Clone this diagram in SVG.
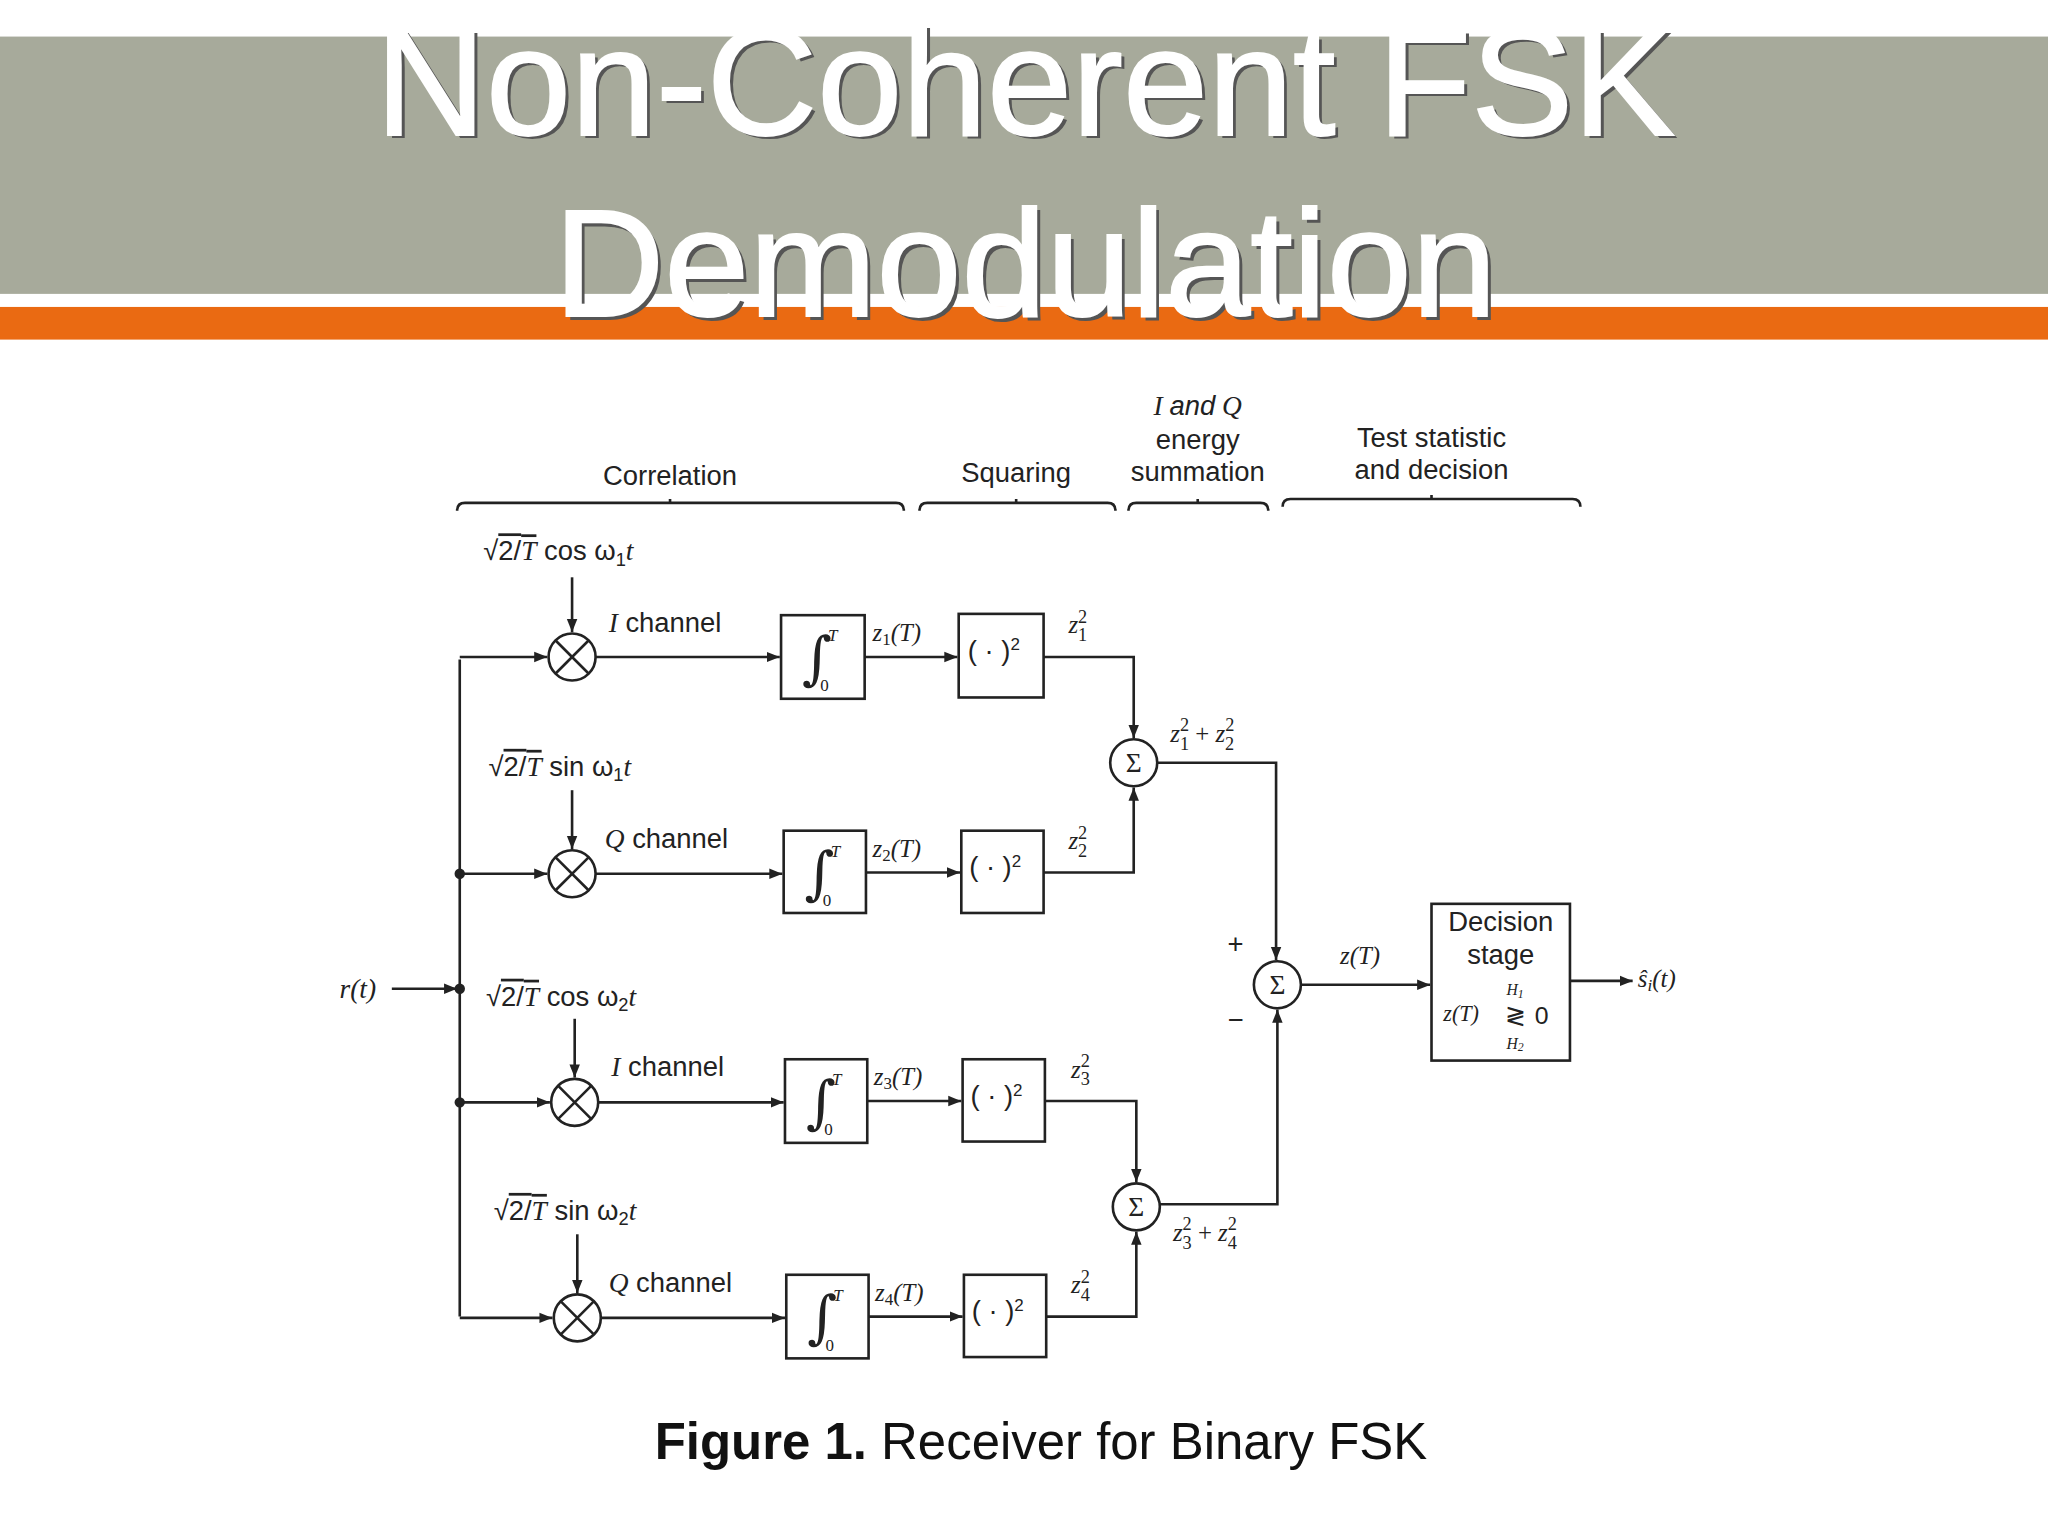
<svg xmlns="http://www.w3.org/2000/svg" width="2048" height="1536" viewBox="0 0 2048 1536">
<defs>
<marker id="ah" viewBox="0 0 10 10" refX="10" refY="5" markerWidth="10" markerHeight="10" markerUnits="userSpaceOnUse" orient="auto"><path d="M0,1 L10,5 L0,9 z" fill="#222"/></marker>
</defs>
<style>
.ln{fill:none;stroke:#222;stroke-width:2}
.bx{fill:#fff;stroke:#222;stroke-width:2}
.t{font-family:"Liberation Sans",Arial,sans-serif;font-size:21px;fill:#222}
.m{font-family:"Liberation Serif","Times New Roman",serif;font-style:italic;font-size:21px;fill:#222}
.n{font-style:normal}
.s{font-family:"Liberation Serif",serif;font-size:13px;fill:#222}
.ig{font-family:"DejaVu Serif",serif;font-size:44px;fill:#222}
.title{font-family:"Liberation Sans",Arial,sans-serif;font-size:117px;text-anchor:middle}
</style>
<rect width="2048" height="1536" fill="#fff"/>
<g transform="scale(1.30612)">
<rect x="0" y="28" width="1568" height="197" fill="#a7aa9b"/>
<rect x="0" y="235" width="1568" height="25" fill="#ea6a12"/>
<g id="title">
<text class="title" x="788" y="106" fill="#555">Non-Coherent FSK</text>
<text class="title" x="785" y="103" fill="#fff" stroke="#fff" stroke-width="1.5">Non-Coherent FSK</text>
<text class="title" x="788" y="245" fill="#555">Demodulation</text>
<text class="title" x="785" y="242" fill="#fff" stroke="#fff" stroke-width="1.5">Demodulation</text>
</g>
<g id="headers" class="t" text-anchor="middle">
<text x="513" y="371">Correlation</text>
<text x="778" y="369">Squaring</text>
<text x="917" y="318" class="m">I <tspan class="t">and</tspan> Q</text>
<text x="917" y="344">energy</text>
<text x="917" y="368">summation</text>
<text x="1096" y="342">Test statistic</text>
<text x="1096" y="367">and decision</text>
</g>
<g id="braces" class="ln" stroke-width="1.5">
<path d="M350,391 Q350,385 356,385 L686,385 Q692,385 692,391 M513,385 l0,-3"/>
<path d="M704,391 Q704,385 710,385 L848,385 Q854,385 854,391 M778,385 l0,-3"/>
<path d="M864,391 Q864,385 870,385 L965,385 Q971,385 971,391 M917,385 l0,-3"/>
<path d="M982,388 Q982,382 988,382 L1204,382 Q1210,382 1210,388 M1096,382 l0,-3"/>
</g>
<g id="connectors" class="ln">
<path d="M300,757 L350,757" marker-end="url(#ah)"/>
<path d="M352,505 L352,1008"/>
<path d="M352,503 L419,503" marker-end="url(#ah)"/>
<path d="M352,669 L419,669" marker-end="url(#ah)"/>
<path d="M352,844 L421,844" marker-end="url(#ah)"/>
<path d="M352,1009 L423,1009" marker-end="url(#ah)"/>
<path d="M438,442 L438,484" marker-end="url(#ah)"/>
<path d="M438,605 L438,650" marker-end="url(#ah)"/>
<path d="M440,780 L440,825" marker-end="url(#ah)"/>
<path d="M442,945 L442,990" marker-end="url(#ah)"/>
<path d="M456,503 L597,503" marker-end="url(#ah)"/>
<path d="M456,669 L599,669" marker-end="url(#ah)"/>
<path d="M458,844 L600,844" marker-end="url(#ah)"/>
<path d="M460,1009 L601,1009" marker-end="url(#ah)"/>
<path d="M662,503 L733,503" marker-end="url(#ah)"/>
<path d="M663,668 L735,668" marker-end="url(#ah)"/>
<path d="M664,843 L736,843" marker-end="url(#ah)"/>
<path d="M665,1008 L737,1008" marker-end="url(#ah)"/>
<path d="M799,503 L868,503 L868,565" marker-end="url(#ah)"/>
<path d="M799,668 L868,668 L868,603" marker-end="url(#ah)"/>
<path d="M800,843 L870,843 L870,905" marker-end="url(#ah)"/>
<path d="M801,1008 L870,1008 L870,943" marker-end="url(#ah)"/>
<path d="M886,584 L977,584 L977,735" marker-end="url(#ah)"/>
<path d="M888,922 L978,922 L978,773" marker-end="url(#ah)"/>
<path d="M996,754 L1095,754" marker-end="url(#ah)"/>
<path d="M1202,751 L1250,751" marker-end="url(#ah)"/>
<circle cx="352" cy="669" r="3" fill="#222"/>
<circle cx="352" cy="757" r="3" fill="#222"/>
<circle cx="352" cy="844" r="3" fill="#222"/>
</g>
<g id="mult1"><circle class="bx" cx="438" cy="503" r="18"/><path class="ln" d="M425,490 L451,516 M451,490 L425,516"/></g>
<g id="mult2"><circle class="bx" cx="438" cy="669" r="18"/><path class="ln" d="M425,656 L451,682 M451,656 L425,682"/></g>
<g id="mult3"><circle class="bx" cx="440" cy="844" r="18"/><path class="ln" d="M427,831 L453,857 M453,831 L427,857"/></g>
<g id="mult4"><circle class="bx" cx="442" cy="1009" r="18"/><path class="ln" d="M429,996 L455,1022 M455,996 L429,1022"/></g>
<g id="carriers" class="t">
<text x="370" y="429">√<tspan text-decoration="overline">2/<tspan class="m">T</tspan></tspan> cos ω<tspan font-size="14" dy="4">1</tspan><tspan class="m" dy="-4">t</tspan></text>
<text x="374" y="594">√<tspan text-decoration="overline">2/<tspan class="m">T</tspan></tspan> sin ω<tspan font-size="14" dy="4">1</tspan><tspan class="m" dy="-4">t</tspan></text>
<text x="372" y="770">√<tspan text-decoration="overline">2/<tspan class="m">T</tspan></tspan> cos ω<tspan font-size="14" dy="4">2</tspan><tspan class="m" dy="-4">t</tspan></text>
<text x="378" y="934">√<tspan text-decoration="overline">2/<tspan class="m">T</tspan></tspan> sin ω<tspan font-size="14" dy="4">2</tspan><tspan class="m" dy="-4">t</tspan></text>
<text x="466" y="484"><tspan class="m">I</tspan> channel</text>
<text x="463" y="649"><tspan class="m">Q</tspan> channel</text>
<text x="468" y="824"><tspan class="m">I</tspan> channel</text>
<text x="466" y="989"><tspan class="m">Q</tspan> channel</text>
<text x="260" y="764" class="m">r(t)</text>
</g>
<g id="int1"><rect class="bx" x="598" y="471" width="64" height="64"/><text class="ig" x="614" y="519">∫</text><text class="s" style="font-style:italic" x="634" y="491">T</text><text class="s" x="628" y="529">0</text></g>
<g id="int2"><rect class="bx" x="600" y="636" width="63" height="63"/><text class="ig" x="616" y="684">∫</text><text class="s" style="font-style:italic" x="636" y="656">T</text><text class="s" x="630" y="694">0</text></g>
<g id="int3"><rect class="bx" x="601" y="811" width="63" height="64"/><text class="ig" x="617" y="859">∫</text><text class="s" style="font-style:italic" x="637" y="831">T</text><text class="s" x="631" y="869">0</text></g>
<g id="int4"><rect class="bx" x="602" y="976" width="63" height="64"/><text class="ig" x="618" y="1024">∫</text><text class="s" style="font-style:italic" x="638" y="996">T</text><text class="s" x="632" y="1034">0</text></g>
<g id="sq1"><rect class="bx" x="734" y="470" width="65" height="64"/><text class="t" x="741" y="505" font-size="18">( · )<tspan font-size="13" dy="-7">2</tspan></text></g>
<g id="sq2"><rect class="bx" x="736" y="636" width="63" height="63"/><text class="t" x="742" y="671" font-size="18">( · )<tspan font-size="13" dy="-7">2</tspan></text></g>
<g id="sq3"><rect class="bx" x="737" y="811" width="63" height="63"/><text class="t" x="743" y="846" font-size="18">( · )<tspan font-size="13" dy="-7">2</tspan></text></g>
<g id="sq4"><rect class="bx" x="738" y="976" width="63" height="63"/><text class="t" x="744" y="1011" font-size="18">( · )<tspan font-size="13" dy="-7">2</tspan></text></g>
<g id="zlabels" class="m" style="font-size:19px">
<text x="668" y="491">z<tspan class="n" font-size="13" dy="3">1</tspan><tspan dy="-3">(T)</tspan></text>
<text x="668" y="656">z<tspan class="n" font-size="13" dy="3">2</tspan><tspan dy="-3">(T)</tspan></text>
<text x="669" y="831">z<tspan class="n" font-size="13" dy="3">3</tspan><tspan dy="-3">(T)</tspan></text>
<text x="670" y="996">z<tspan class="n" font-size="13" dy="3">4</tspan><tspan dy="-3">(T)</tspan></text>
<text x="818" y="485">z<tspan class="n" font-size="14" dy="-8">2</tspan><tspan class="n" font-size="14" dx="-7" dy="14">1</tspan></text>
<text x="818" y="650">z<tspan class="n" font-size="14" dy="-8">2</tspan><tspan class="n" font-size="14" dx="-7" dy="14">2</tspan></text>
<text x="820" y="825">z<tspan class="n" font-size="14" dy="-8">2</tspan><tspan class="n" font-size="14" dx="-7" dy="14">3</tspan></text>
<text x="820" y="990">z<tspan class="n" font-size="14" dy="-8">2</tspan><tspan class="n" font-size="14" dx="-7" dy="14">4</tspan></text>
<text x="896" y="568">z<tspan class="n" font-size="14" dy="-8">2</tspan><tspan class="n" font-size="14" dx="-7" dy="14">1</tspan><tspan class="n" dy="-6"> + </tspan>z<tspan class="n" font-size="14" dy="-8">2</tspan><tspan class="n" font-size="14" dx="-7" dy="14">2</tspan></text>
<text x="898" y="950">z<tspan class="n" font-size="14" dy="-8">2</tspan><tspan class="n" font-size="14" dx="-7" dy="14">3</tspan><tspan class="n" dy="-6"> + </tspan>z<tspan class="n" font-size="14" dy="-8">2</tspan><tspan class="n" font-size="14" dx="-7" dy="14">4</tspan></text>
<text x="1026" y="738">z(T)</text>
<text x="1254" y="756">ŝ<tspan font-size="13" dy="3">i</tspan><tspan dy="-3">(t)</tspan></text>
</g>
<g id="sum1"><circle class="bx" cx="868" cy="584" r="18"/><text class="m n" x="868" y="591" text-anchor="middle">Σ</text></g>
<g id="sum2"><circle class="bx" cx="870" cy="924" r="18"/><text class="m n" x="870" y="931" text-anchor="middle">Σ</text></g>
<g id="sum3"><circle class="bx" cx="978" cy="754" r="18"/><text class="m n" x="978" y="761" text-anchor="middle">Σ</text>
<text class="t" x="946" y="730" text-anchor="middle" font-size="16">+</text><text class="t" x="946" y="788" text-anchor="middle" font-size="16">−</text></g>
<g id="decision"><rect class="bx" x="1096" y="692" width="106" height="120"/>
<text class="t" x="1149" y="713" text-anchor="middle">Decision</text><text class="t" x="1149" y="738" text-anchor="middle">stage</text>
<text class="m" x="1105" y="782" style="font-size:17px">z(T)</text><text class="t" x="1160" y="784" style="font-size:19px" text-anchor="middle">≷</text><text class="t" x="1175" y="784" style="font-size:19px">0</text>
<text class="m" x="1160" y="762" style="font-size:12px" text-anchor="middle">H<tspan font-size="9" dy="2">1</tspan></text>
<text class="m" x="1160" y="803" style="font-size:12px" text-anchor="middle">H<tspan font-size="9" dy="2">2</tspan></text>
</g>
<g id="caption"><text x="797" y="1117" text-anchor="middle" font-family="Liberation Sans,Arial,sans-serif" font-size="39" fill="#111"><tspan font-weight="bold">Figure 1.</tspan> Receiver for Binary FSK</text></g>
</g>
</svg>
